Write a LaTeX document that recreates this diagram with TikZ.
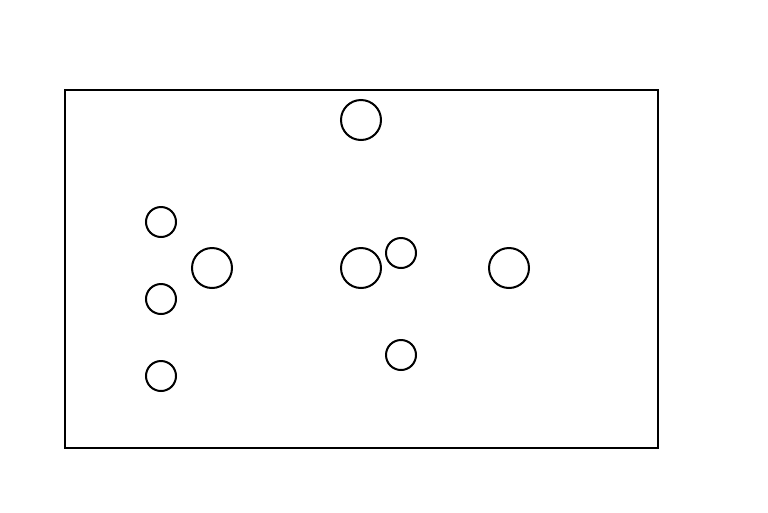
\documentclass[tikz,border=0pt]{standalone}
\begin{document}
\begin{tikzpicture}[x=1pt,y=-1pt,
  frame/.style={draw=black,line width=2pt},
  bigc/.style={circle,draw=black,line width=2pt,minimum size=40pt,inner sep=0pt},
  smallc/.style={circle,draw=black,line width=2pt,minimum size=30pt,inner sep=0pt}]
\useasboundingbox (0,0) rectangle (768,512);
\node[frame,minimum width=593pt,minimum height=358pt,inner sep=0pt,anchor=north west] (box) at (64,89) {};
\node[bigc] (b1) at (361,120) {};
\node[bigc] (b2) at (212,268) {};
\node[bigc] (b3) at (361,268) {};
\node[bigc] (b4) at (509,268) {};
\node[smallc] (s1) at (161,222) {};
\node[smallc] (s2) at (161,299) {};
\node[smallc] (s3) at (161,376) {};
\node[smallc] (s4) at (401,253) {};
\node[smallc] (s5) at (401,355) {};
\end{tikzpicture}
\end{document}
